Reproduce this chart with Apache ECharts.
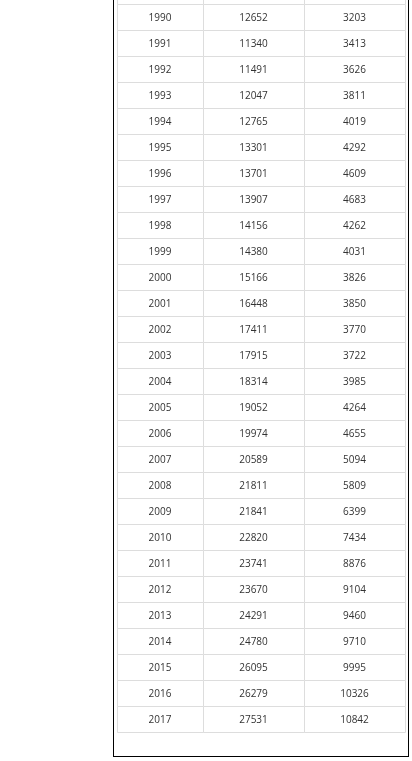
<!DOCTYPE html>
<html>
<head>
<meta charset="utf-8">
<script src="https://cdn.jsdelivr.net/npm/echarts@6/dist/echarts.min.js"></script>
<style>
  html, body { margin: 0; padding: 0; background: #fff; overflow: hidden; }
  #box { position: absolute; left: 113px; top: -100px; width: 294px; height: 855px; border: 1px solid #000; }
  #chart { position: absolute; left: 0; top: 0; width: 412px; height: 761px; }
</style>
</head>
<body>
<div id="box"></div>
<div id="chart"></div>
<script>
// table header (scrolled off the top) and rows
var headers = ['', '', ''];
var years = [1990, 1991, 1992, 1993, 1994, 1995, 1996, 1997, 1998, 1999, 2000, 2001, 2002, 2003,
    2004, 2005, 2006, 2007, 2008, 2009, 2010, 2011, 2012, 2013, 2014, 2015, 2016, 2017];
var colA = [12652, 11340, 11491, 12047, 12765, 13301, 13701, 13907, 14156, 14380, 15166, 16448, 17411, 17915,
    18314, 19052, 19974, 20589, 21811, 21841, 22820, 23741, 23670, 24291, 24780, 26095, 26279, 27531];
var colB = [3203, 3413, 3626, 3811, 4019, 4292, 4609, 4683, 4262, 4031, 3826, 3850, 3770, 3722,
    3985, 4264, 4655, 5094, 5809, 6399, 7434, 8876, 9104, 9460, 9710, 9995, 10326, 10842];

// column edges on the x value axis
var colEdges = [0, 86, 187, 288];

var rows = years.map(String);
var cells = [];
for (var c = 0; c < 3; c++) cells.push([c, -1, headers[c]]);
years.forEach(function (y, i) {
    cells.push([0, i, String(y)]);
    cells.push([1, i, String(colA[i])]);
    cells.push([2, i, String(colB[i])]);
});

var chart = echarts.init(document.getElementById('chart'));
chart.setOption({
    animation: false,
    grid: { left: 117, right: 7, top: 4, height: 728 },
    xAxis: { type: 'value', min: 0, max: 288, show: false },
    yAxis: { type: 'category', data: rows, inverse: true, show: false },
    series: [{
        type: 'custom',
        clip: false,
        data: cells,
        renderItem: function (params, api) {
            var item = cells[params.dataIndex];
            var c = item[0];
            var r = item[1];
            var h = api.size([0, 1])[1];
            var ref = api.coord([colEdges[c], 0]);
            var p1 = api.coord([colEdges[c + 1], 0]);
            var cy = ref[1] + r * h;
            var top = cy - h / 2;
            return {
                type: 'group',
                children: [{
                    type: 'rect',
                    shape: { x: Math.round(ref[0]) + 0.5, y: Math.round(top) + 0.5, width: Math.round(p1[0] - ref[0]), height: Math.round(h) },
                    style: { fill: '#fff', stroke: '#dddddd', lineWidth: 1 }
                }, {
                    type: 'text',
                    style: {
                        text: item[2],
                        x: (ref[0] + p1[0]) / 2, y: cy + 1,
                        align: 'center', verticalAlign: 'middle',
                        fill: '#333', fontSize: 10, fontFamily: 'Open Sans'
                    }
                }]
            };
        }
    }]
});
</script>
</body>
</html>
